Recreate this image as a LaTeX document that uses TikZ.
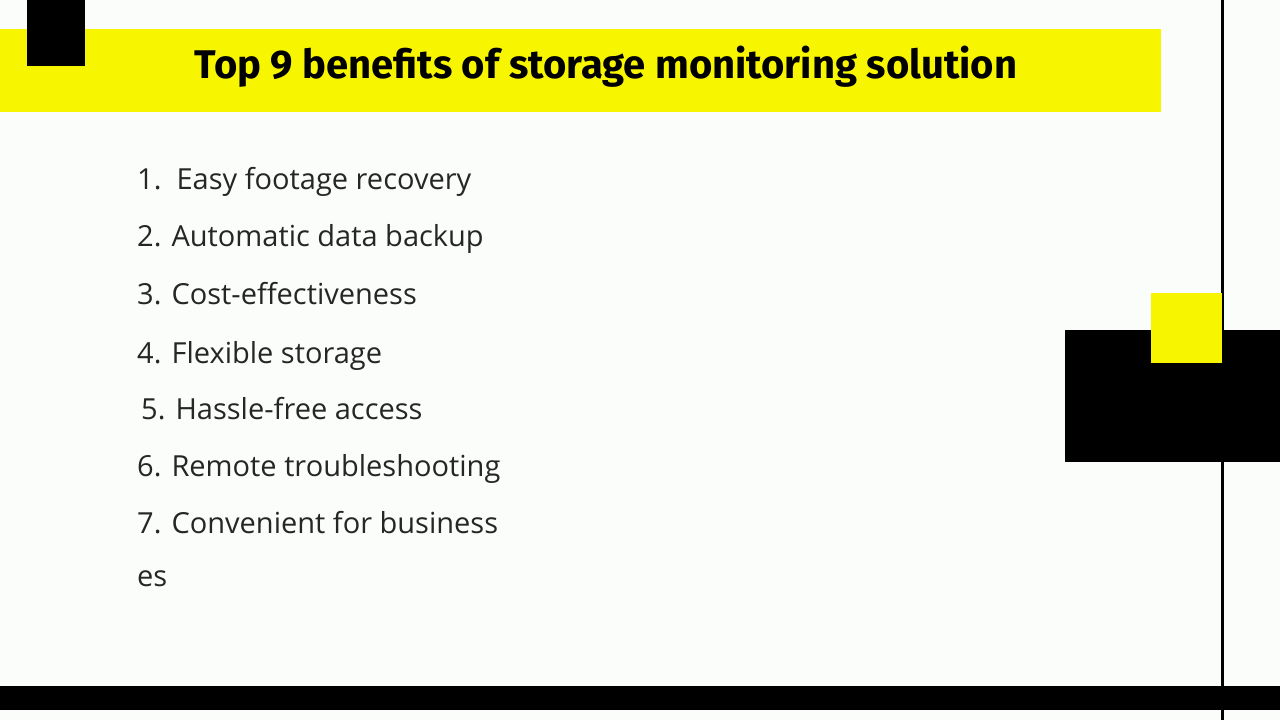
\documentclass[tikz,border=0pt]{standalone}
\usepackage{fontspec}
\setmainfont{Open Sans}
\newfontfamily\titlefont{Fira Sans}
\definecolor{bg}{HTML}{FAFDF9}
\definecolor{yel}{HTML}{F7F500}
\begin{document}
\begin{tikzpicture}[x=1pt,y=-1pt,
  item/.style={anchor=base west,inner sep=0pt,font=\fontsize{29}{34}\selectfont,text=black!85}]
\fill[bg] (0,0) rectangle (1280,720);
\useasboundingbox (0,0) rectangle (1280,720);
\fill[yel] (0,29) rectangle (1161,112);
\fill[black] (27,0) rectangle (85,66);
\node[inner sep=0pt] (title) at (606,67) {\titlefont\bfseries\fontsize{40}{48}\selectfont Top 9 benefits of storage monitoring solution};
\fill[black] (1220.5,0) rectangle (1223.5,720);
\fill[black] (1065,330) rectangle (1280,462);
\fill[yel] (1151,293) rectangle (1222,363);
\fill[black] (0,686) rectangle (1280,710);
\node[item] (i1) at (137,189) {1.\ \ Easy footage recovery};
\node[item] (i2) at (137,246) {2. Automatic data backup};
\node[item] (i3) at (137,304) {3. Cost-effectiveness};
\node[item] (i4) at (137,363) {4. Flexible storage};
\node[item] (i5) at (141,419) {5. Hassle-free access};
\node[item] (i6) at (137,476) {6. Remote troubleshooting};
\node[item] (i7) at (137,533) {7. Convenient for business};
\node[item] (i8) at (137,586) {es};
\end{tikzpicture}
\end{document}
